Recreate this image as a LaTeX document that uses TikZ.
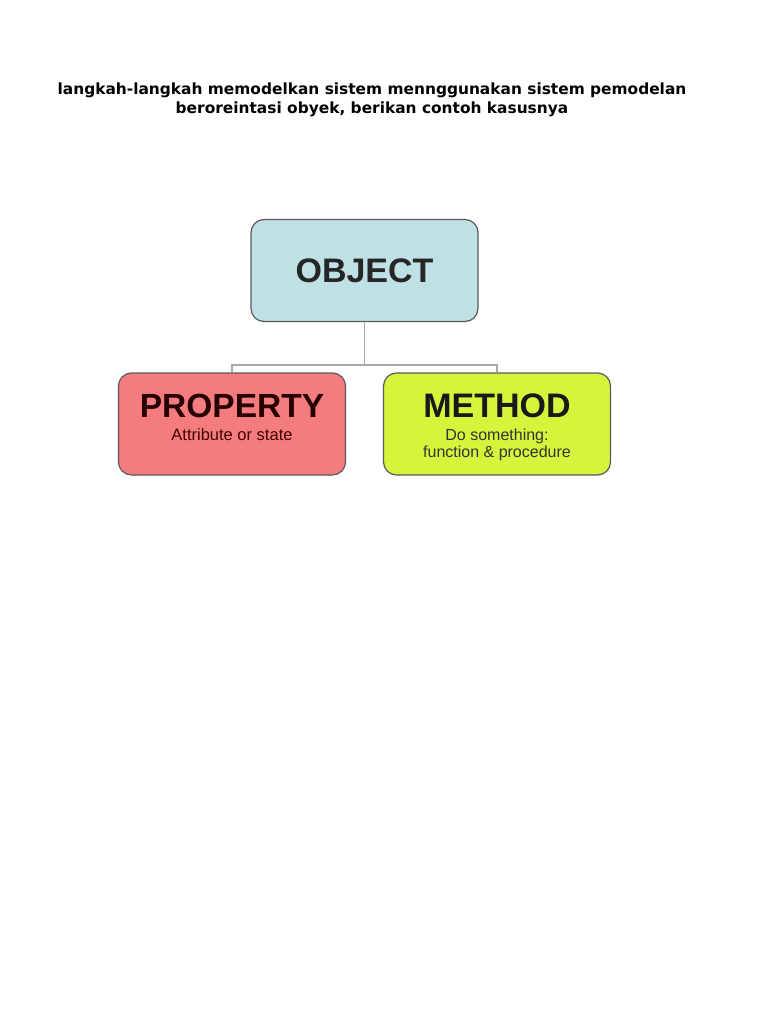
\documentclass[tikz,border=0pt]{standalone}
\usepackage{fontspec}
\setmainfont{Liberation Sans}
\newfontfamily\titlefont{DejaVu Sans}
\usepackage{tikz}

\definecolor{objfill}{HTML}{BFE0E5}
\definecolor{propfill}{HTML}{F47B7E}
\definecolor{methfill}{HTML}{D8F33C}
\definecolor{boxline}{HTML}{5A5A5A}
\definecolor{linkgray}{HTML}{A8A8A8}

\tikzset{
  box/.style={draw=boxline,line width=1.2pt,rounded corners=13pt,minimum width=227pt,minimum height=102pt,inner sep=0pt},
  link/.style={draw=linkgray,line width=1.2pt},
}

\begin{document}
\begin{tikzpicture}[x=1pt,y=-1pt]
    \useasboundingbox[fill=white] (0,0) rectangle (768,1024);

    \node (title) at (372,100) [align=center,font=\titlefont\bfseries\fontsize{15.4}{18.5}\selectfont] {langkah-langkah memodelkan sistem mennggunakan sistem pemodelan\\beroreintasi obyek, berikan contoh kasusnya};

    \node (obj) at (364.5,270.5) [box,fill=objfill] {};
    \node (prop) at (232,424) [box,fill=propfill] {};
    \node (meth) at (497,424) [box,fill=methfill] {};

    \node at (obj.center) [font=\bfseries\fontsize{34}{34}\selectfont,text=black!85] {OBJECT};
    \node at (232,406) [font=\bfseries\fontsize{33.5}{33.5}\selectfont,text=black!85!red] {PROPERTY};
    \node at (232,435) [font=\fontsize{16.5}{16.5}\selectfont,text=black!75!red] {Attribute or state};
    \node at (497,406) [font=\bfseries\fontsize{34}{34}\selectfont,text=black!90] {METHOD};
    \node at (497,445) [align=center,font=\fontsize{16}{17}\selectfont,text=black!80] {Do something:\\function \& procedure};

    \coordinate (branch) at (364.5,365);
    \draw [link] (obj.south) -- (branch);
    \draw [link] (branch) -| (prop.north);
    \draw [link] (branch) -| (meth.north);
\end{tikzpicture}
\end{document}
